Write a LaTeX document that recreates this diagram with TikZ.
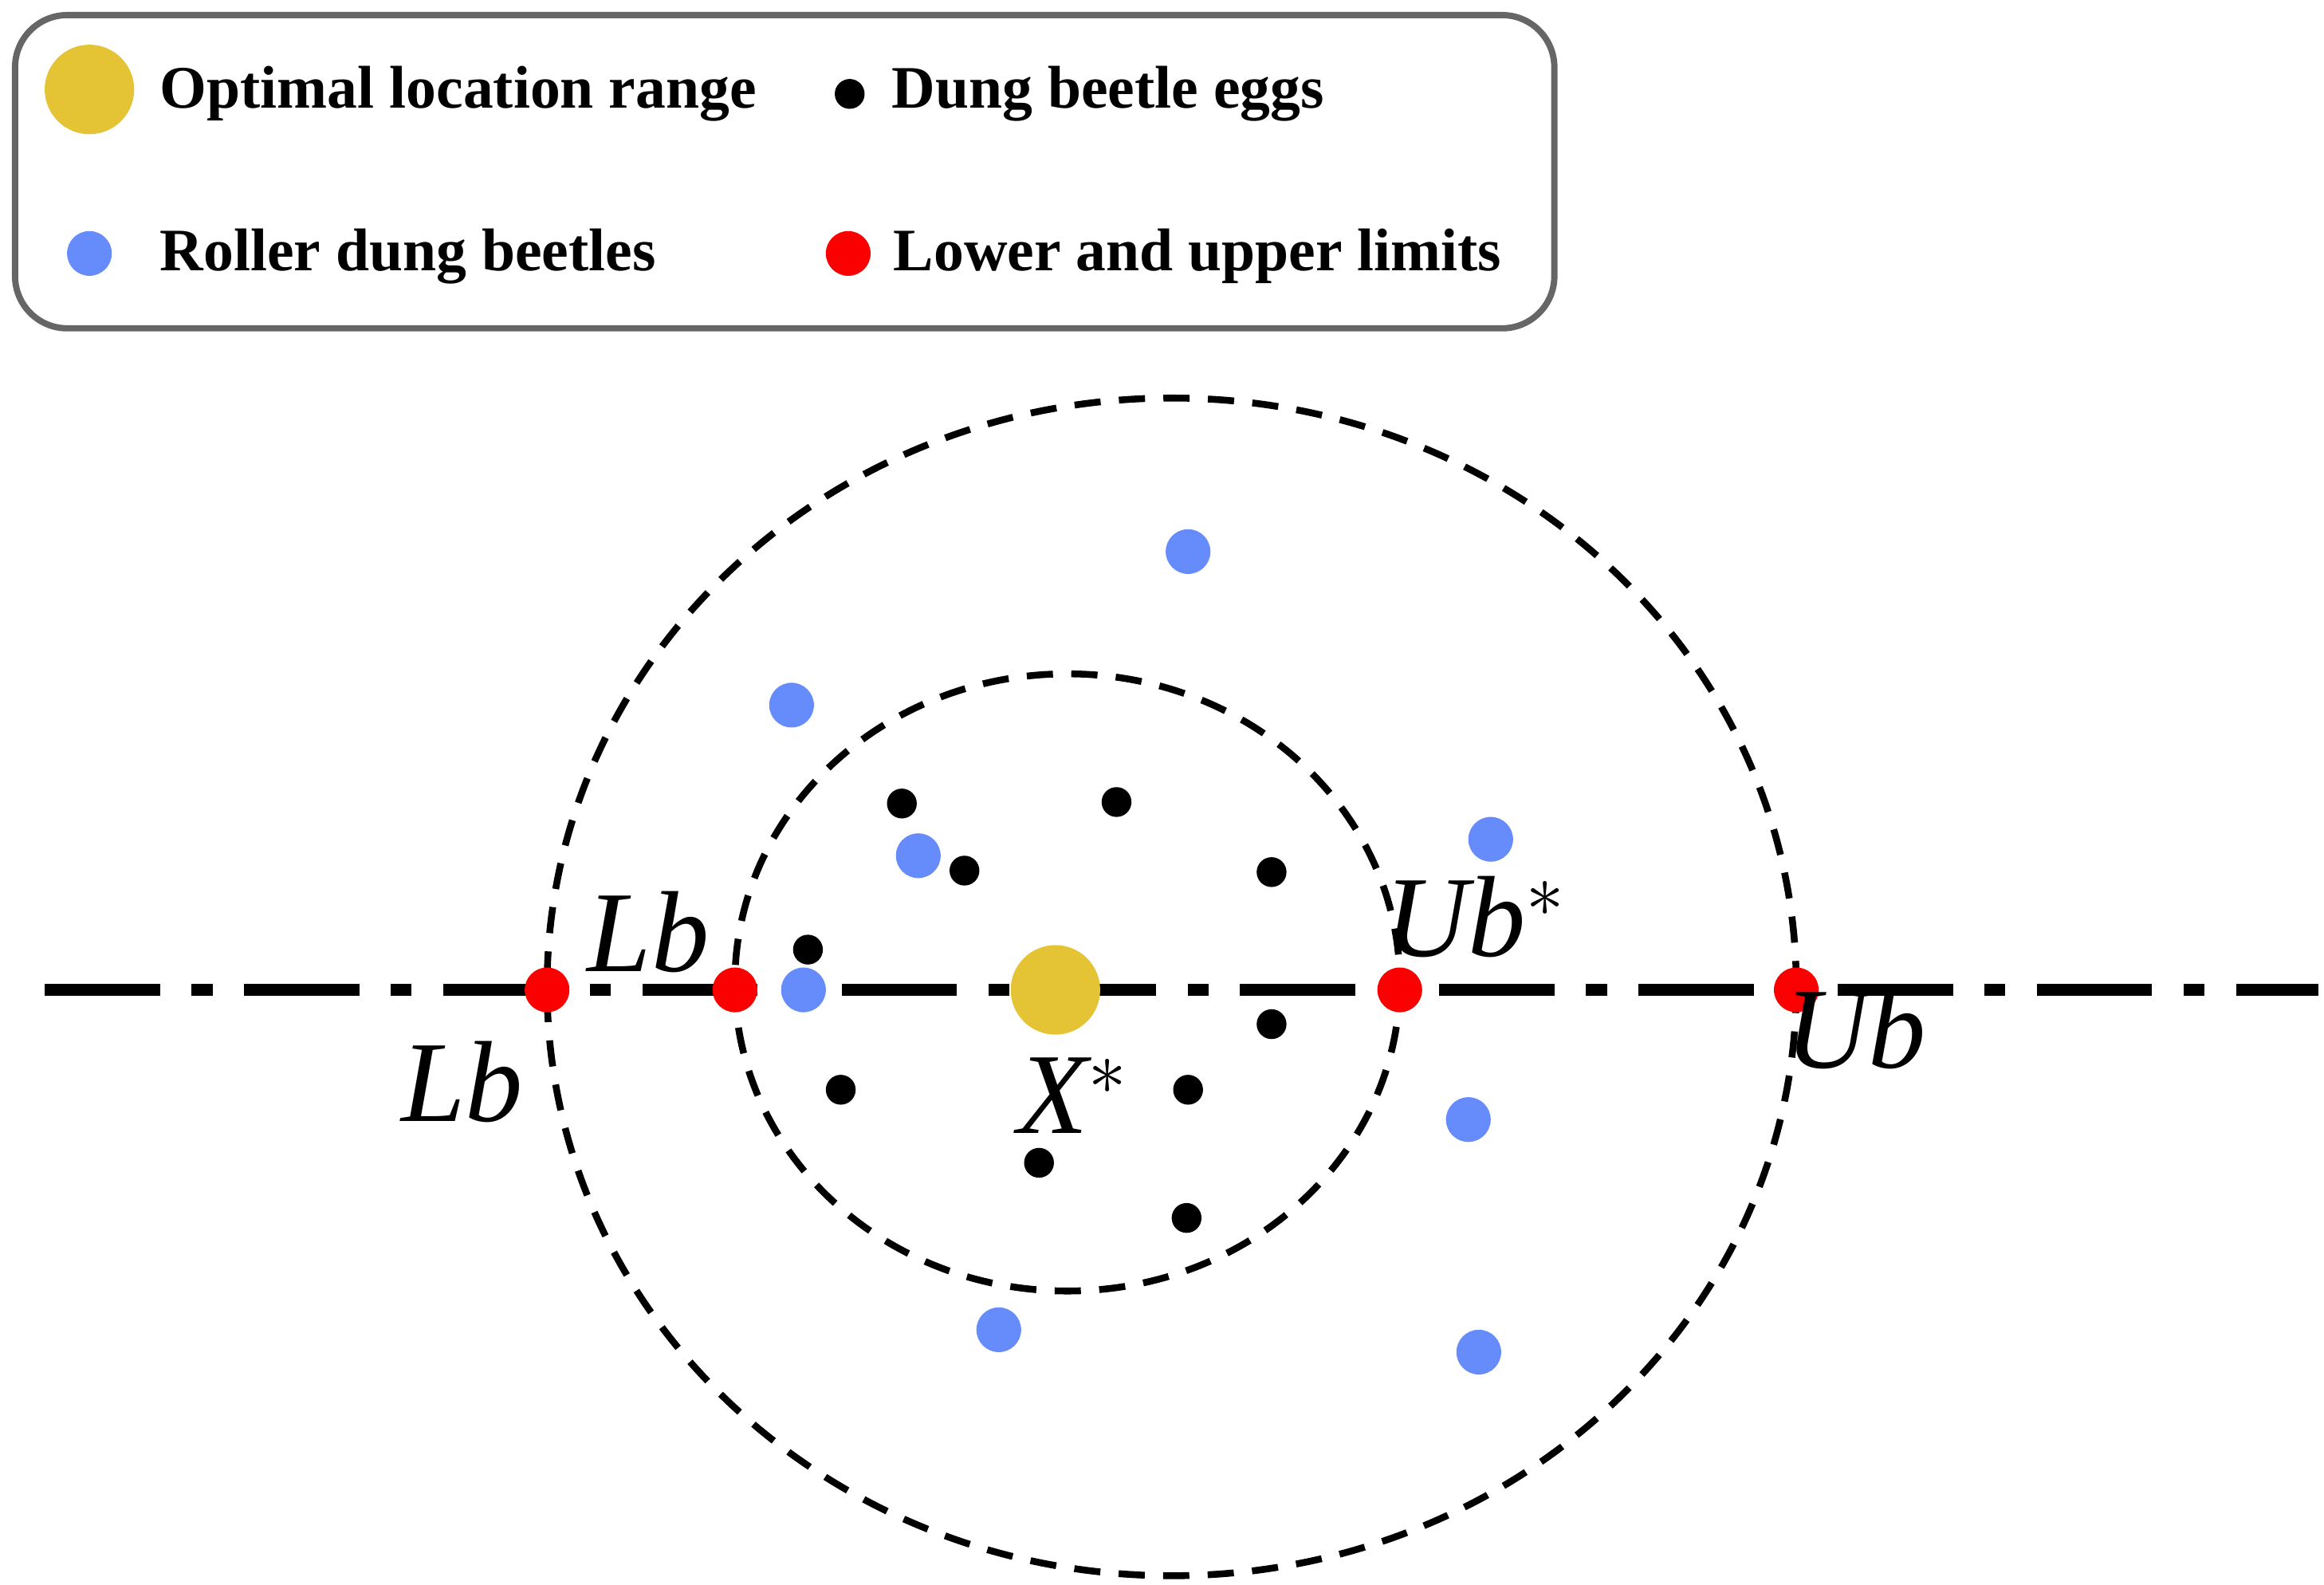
\documentclass[tikz,border=0pt]{standalone}
\usepackage{fontspec}
\setmainfont{Liberation Serif}
\begin{document}
\begin{tikzpicture}[x=0.01cm,y=-0.01cm,
  dot/.style={circle,inner sep=0pt,minimum size=#1},
  yel/.style={dot=0.6cm,fill={rgb,255:red,228;green,196;blue,52}},
  blu/.style={dot=0.3cm,fill={rgb,255:red,101;green,140;blue,250}},
  blk/.style={dot=0.2cm,fill=black},
  red/.style={dot=0.3cm,fill={rgb,255:red,250;green,0;blue,0}},
  leg/.style={anchor=west,font=\fontsize{11.5}{13}\selectfont\bfseries},
  lab/.style={font=\fontsize{22}{24}\selectfont\itshape}]
\useasboundingbox (0,0) rectangle (1559,1063);
\node[draw=gray!80!black,line width=1.2pt,rounded corners=0.35cm,minimum width=10.32cm,minimum height=2.1cm,anchor=north west] (box) at (8,8) {};
\node[yel] (l1) at (60,60) {};
\node[leg] (t1) at (95,63) {Optimal location range};
\node[blk] (l2) at (570,63) {};
\node[leg] (t2) at (586,63) {Dung beetle eggs};
\node[blu] (l3) at (60,170) {};
\node[leg] (t3) at (95,172) {Roller dung beetles};
\node[red] (l4) at (569,170) {};
\node[leg] (t4) at (587,172) {Lower and upper limits};
\coordinate (a) at (30,664); \coordinate (b) at (1555,664);
\draw[line width=2.2pt,dash pattern=on 22pt off 6pt on 4pt off 6pt] (a) -- (b);
\draw[line width=1.3pt,dash pattern=on 5pt off 3.5pt] (786,662) ellipse [x radius=419,y radius=395];
\draw[line width=1.3pt,dash pattern=on 5pt off 3.5pt] (716,659) ellipse [x radius=223,y radius=207];
\foreach \n/\x/\y in {b1/797/370,b2/531/473,b3/616/574,b4/1000/563,b5/539/664,b6/985/751,b7/670/892,b8/992/907}
  \node[blu] (\n) at (\x,\y) {};
\foreach \n/\x/\y in {k1/605/539,k2/749/538,k3/647/584,k4/853/585,k5/542/637,k6/853/687,k7/564/731,k8/797/731,k9/697/780,k10/796/817}
  \node[blk] (\n) at (\x,\y) {};
\foreach \n/\x in {r1/367,r2/493,r3/939,r4/1205}
  \node[red] (\n) at (\x,664) {};
\node[yel] (xs) at (708,664) {};
\node[lab] (lb1) at (435,625) {Lb};
\node[lab] (lb2) at (310,726) {Lb};
\node[lab] (ub1) at (990,615) {Ub$^{*}$};
\node[lab] (ub2) at (1245,690) {Ub};
\node[lab] (xl) at (720,735) {X$^{*}$};
\end{tikzpicture}
\end{document}
